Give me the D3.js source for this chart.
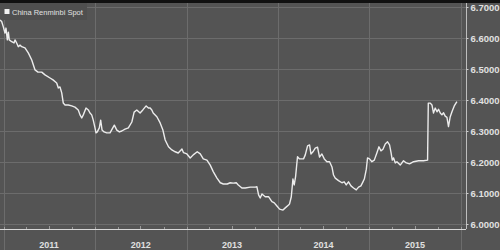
<!DOCTYPE html>
<html><head><meta charset="utf-8">
<script src="https://cdn.jsdelivr.net/npm/d3@7"></script>
<style>html,body{margin:0;padding:0;background:#545454;}svg{display:block;}</style>
</head><body><svg id="c" width="500" height="250"></svg>
<script>
// Dates as decimal years, values in CNY per USD
const times = [2010.962,2010.980,2010.998,2011.016,2011.027,2011.042,2011.053,2011.063,2011.090,2011.115,2011.126,2011.144,2011.162,2011.181,2011.199,2011.235,2011.271,2011.309,2011.345,2011.377,2011.418,2011.454,2011.509,2011.542,2011.582,2011.600,2011.618,2011.637,2011.654,2011.673,2011.709,2011.746,2011.782,2011.818,2011.837,2011.856,2011.873,2011.903,2011.928,2011.946,2011.965,2011.982,2012.001,2012.012,2012.026,2012.048,2012.063,2012.078,2012.100,2012.129,2012.165,2012.195,2012.212,2012.239,2012.267,2012.293,2012.329,2012.365,2012.403,2012.428,2012.457,2012.493,2012.523,2012.559,2012.584,2012.603,2012.621,2012.636,2012.676,2012.712,2012.742,2012.767,2012.803,2012.840,2012.876,2012.909,2012.950,2012.967,2013.004,2013.040,2013.073,2013.117,2013.150,2013.183,2013.223,2013.259,2013.292,2013.333,2013.369,2013.402,2013.445,2013.478,2013.511,2013.544,2013.566,2013.606,2013.642,2013.697,2013.752,2013.770,2013.788,2013.806,2013.825,2013.861,2013.897,2013.934,2013.960,2013.989,2014.018,2014.055,2014.080,2014.116,2014.127,2014.146,2014.164,2014.178,2014.193,2014.214,2014.236,2014.280,2014.299,2014.324,2014.346,2014.361,2014.383,2014.408,2014.433,2014.455,2014.481,2014.507,2014.536,2014.565,2014.591,2014.608,2014.627,2014.663,2014.700,2014.725,2014.747,2014.772,2014.799,2014.827,2014.857,2014.882,2014.908,2014.930,2014.945,2014.967,2014.980,2015.002,2015.028,2015.054,2015.083,2015.105,2015.127,2015.149,2015.174,2015.199,2015.221,2015.236,2015.251,2015.265,2015.284,2015.302,2015.338,2015.374,2015.404,2015.440,2015.484,2015.538,2015.593,2015.637,2015.645,2015.667,2015.685,2015.702,2015.721,2015.740,2015.757,2015.776,2015.794,2015.812,2015.830,2015.849,2015.866,2015.885,2015.904,2015.929,2015.958];
const values = [6.658,6.653,6.636,6.616,6.632,6.594,6.619,6.594,6.588,6.584,6.594,6.584,6.572,6.577,6.572,6.568,6.552,6.529,6.497,6.490,6.490,6.481,6.471,6.465,6.455,6.439,6.442,6.423,6.390,6.384,6.384,6.381,6.377,6.368,6.352,6.342,6.352,6.374,6.368,6.358,6.352,6.335,6.310,6.294,6.297,6.310,6.335,6.303,6.297,6.294,6.294,6.310,6.319,6.303,6.297,6.300,6.306,6.310,6.329,6.361,6.368,6.358,6.368,6.381,6.374,6.374,6.368,6.358,6.346,6.326,6.303,6.271,6.249,6.239,6.233,6.229,6.242,6.230,6.226,6.213,6.223,6.233,6.226,6.210,6.206,6.190,6.169,6.148,6.133,6.129,6.129,6.133,6.132,6.133,6.126,6.116,6.116,6.119,6.119,6.120,6.094,6.084,6.097,6.088,6.088,6.072,6.068,6.058,6.048,6.045,6.052,6.061,6.065,6.088,6.145,6.126,6.153,6.217,6.210,6.210,6.223,6.252,6.255,6.226,6.233,6.245,6.248,6.216,6.226,6.210,6.201,6.201,6.184,6.158,6.148,6.140,6.133,6.136,6.126,6.136,6.123,6.116,6.110,6.119,6.123,6.136,6.145,6.177,6.213,6.210,6.201,6.206,6.230,6.249,6.236,6.241,6.258,6.265,6.255,6.233,6.206,6.213,6.197,6.201,6.190,6.204,6.197,6.194,6.201,6.204,6.204,6.206,6.390,6.390,6.384,6.358,6.374,6.362,6.370,6.358,6.352,6.359,6.348,6.344,6.314,6.346,6.362,6.381,6.395];
const yearLabels = ["2011","2012","2013","2014","2015"];
const yTicks = [6.0,6.1,6.2,6.3,6.4,6.5,6.6,6.7];
const seriesName = "China Renminbi Spot";

function toDate(t){const y=Math.floor(t);const s=Date.UTC(y,0,1),e=Date.UTC(y+1,0,1);return new Date(s+(t-y)*(e-s));}
const data = times.map((t,i)=>({d:toDate(t),v:values[i]}));

const svg = d3.select("#c");
const W=500,H=250, plotR=466, plotT=3, base=229;
svg.append("rect").attr("width",W).attr("height",H).attr("fill","#545454");
svg.append("rect").attr("width",W).attr("height",plotT).attr("fill","#111");

const x = d3.scaleUtc().domain([new Date(Date.UTC(2010,11,18)), new Date(Date.UTC(2016,0,22))]).range([0,plotR]);
const y = d3.scaleLinear().domain([6.0,6.7]).range([224,7]);

// horizontal gridlines
svg.append("g").selectAll("line").data(yTicks).join("line")
  .attr("x1",0).attr("x2",plotR).attr("y1",d=>Math.round(y(d))+0.5).attr("y2",d=>Math.round(y(d))+0.5)
  .attr("stroke","#6c6c6c").attr("stroke-width",1);

// vertical year gridlines
const years = d3.utcYear.range(new Date(Date.UTC(2011,0,1)), new Date(Date.UTC(2016,0,2)));
svg.append("g").selectAll("line").data(years).join("line")
  .attr("x1",d=>Math.round(x(d))+0.5).attr("x2",d=>Math.round(x(d))+0.5).attr("y1",plotT).attr("y2",H)
  .attr("stroke","#6c6c6c").attr("stroke-width",1);

// legend
svg.append("rect").attr("x",0).attr("y",plotT).attr("width",87).attr("height",17).attr("fill","#4f4f4f");
svg.append("rect").attr("x",4.5).attr("y",9).attr("width",5).attr("height",5).attr("fill","#f0f0f0");
svg.append("text").attr("x",12).attr("y",14.5).attr("fill","#e0e0e0")
  .attr("font-family","Liberation Sans, Arial, sans-serif").attr("font-size","7.5px").text(seriesName);

// line
const line = d3.line().x(d=>x(d.d)).y(d=>y(d.v)).curve(d3.curveLinear);
svg.append("path").datum(data).attr("d",line).attr("fill","none")
  .attr("stroke","#ececec").attr("stroke-width",1.4).attr("stroke-linejoin","round");

// x axis baseline & quarter ticks
svg.append("line").attr("x1",0).attr("x2",plotR).attr("y1",base+0.5).attr("y2",base+0.5).attr("stroke","#d8d8d8");
const quarters = d3.utcMonth.every(3).range(new Date(Date.UTC(2011,0,1)), new Date(Date.UTC(2016,0,2)));
svg.append("g").selectAll("line").data(quarters).join("line")
  .attr("x1",d=>Math.round(x(d))+0.5).attr("x2",d=>Math.round(x(d))+0.5)
  .attr("y1",d=>base-(d.getUTCMonth()===6?3:2)).attr("y2",base)
  .attr("stroke","#9a9a9a");
svg.append("g").selectAll("text").data(yearLabels).join("text")
  .attr("x",d=>x(new Date(Date.UTC(+d,6,2)))).attr("y",248).attr("text-anchor","middle")
  .attr("fill","#e0e0e0").attr("font-family","Liberation Sans, Arial, sans-serif")
  .attr("font-weight","bold").attr("font-size","9px").text(d=>d);

// right axis
const yAxis = d3.axisRight(y).tickValues(yTicks).tickFormat(d3.format(".4f")).tickSize(2).tickPadding(2);
const ga = svg.append("g").attr("transform",`translate(${plotR+0.5},0)`).call(yAxis);
ga.select(".domain").attr("stroke","#bdbdbd").attr("d",`M0,${plotT}V${base}`);
ga.selectAll(".tick line").attr("stroke","#cfcfcf");
ga.selectAll(".tick text").attr("fill","#e0e0e0").attr("font-family","Liberation Sans, Arial, sans-serif")
  .attr("font-size","9.5px").attr("font-weight","bold").attr("dy","0.35em");
</script></body></html>
